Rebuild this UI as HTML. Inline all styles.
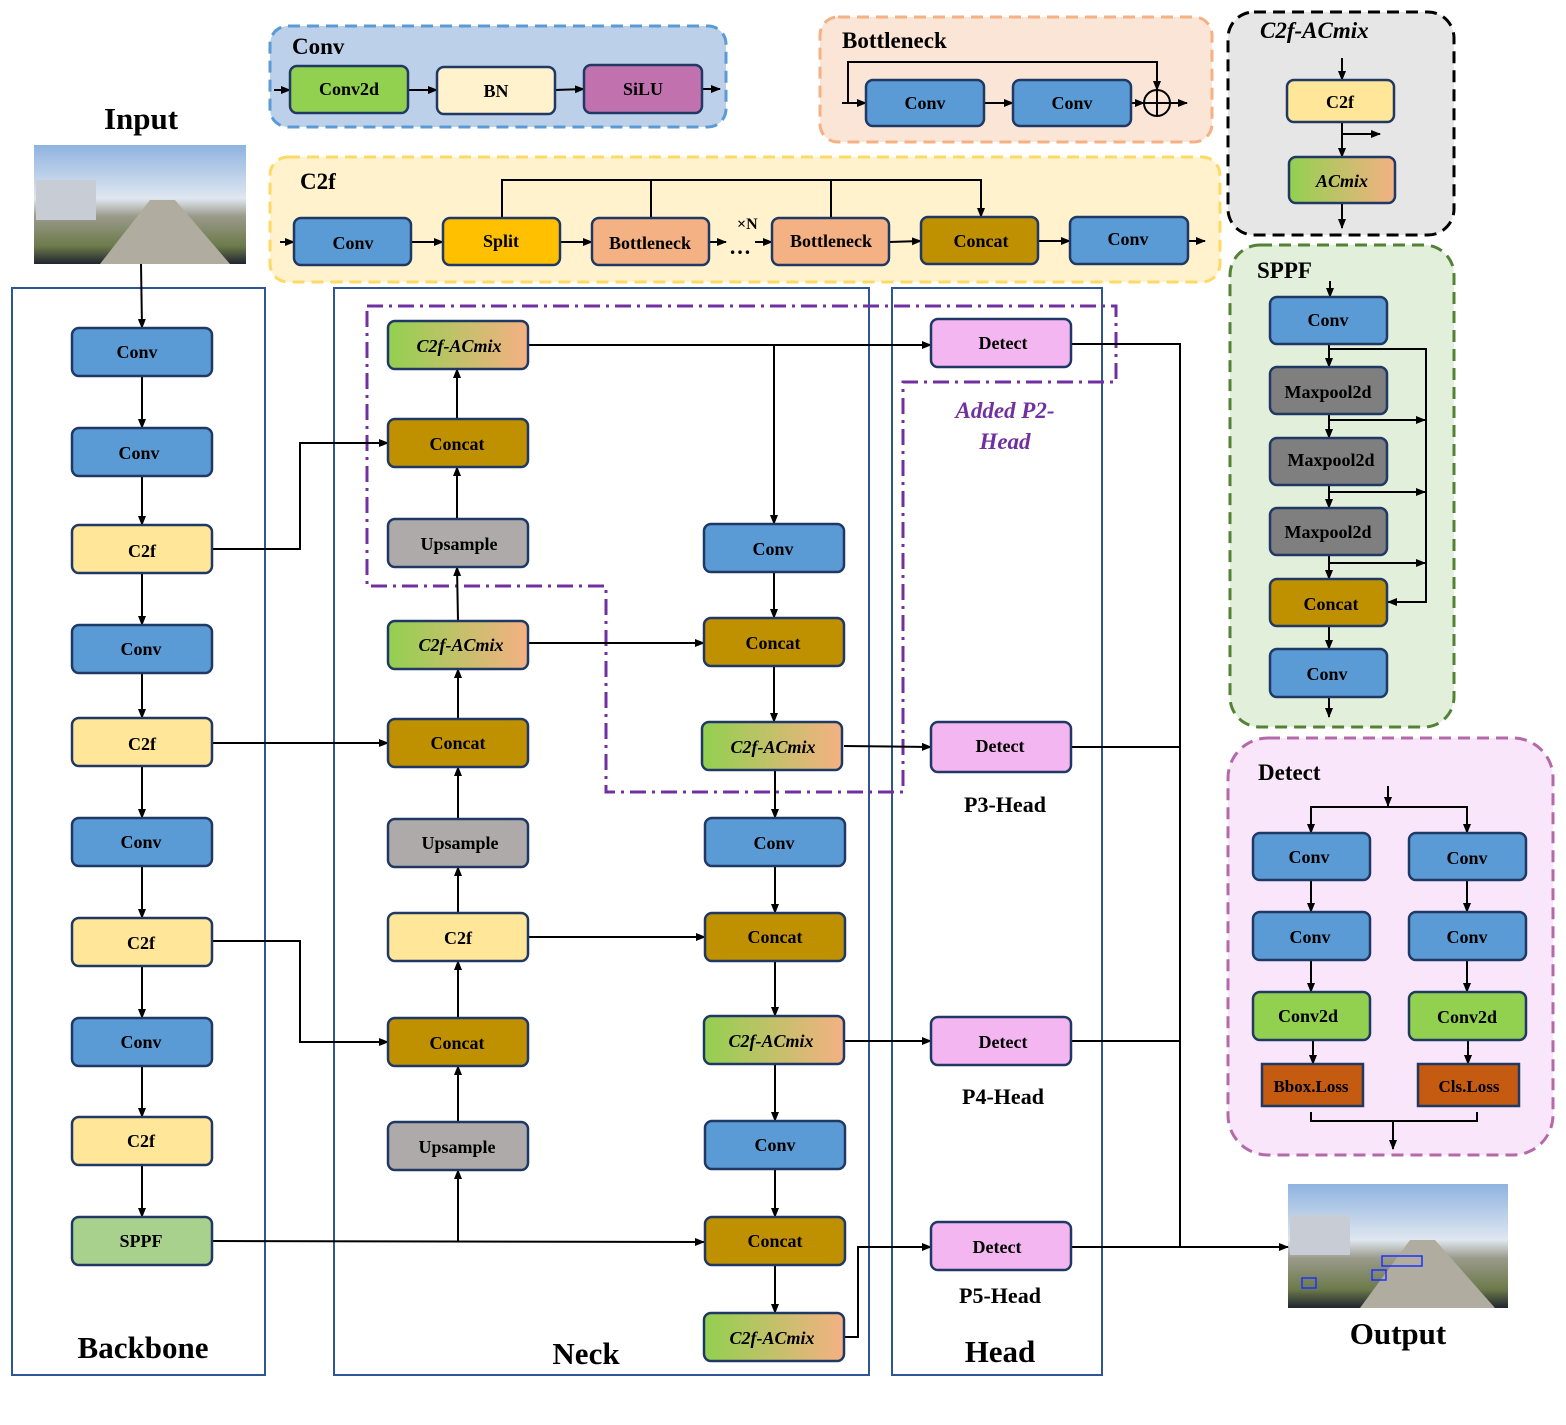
<!DOCTYPE html>
<html><head><meta charset="utf-8"><style>
html,body{margin:0;padding:0;background:#fff;}
svg{display:block;}
text{font-family:"Liberation Serif",serif;font-weight:bold;}
</style></head><body>
<svg width="1566" height="1425" viewBox="0 0 1566 1425" xmlns="http://www.w3.org/2000/svg">
<defs>
<marker id="a" markerWidth="10" markerHeight="10" refX="9" refY="5" orient="auto" markerUnits="userSpaceOnUse"><path d="M0,1 L10,5 L0,9 z" fill="#000"/></marker>
<linearGradient id="g" x1="0" y1="0" x2="1" y2="0"><stop offset="0" stop-color="#92d050"/><stop offset="1" stop-color="#f4b183"/></linearGradient>
<linearGradient id="sky" x1="0" y1="0" x2="0" y2="1"><stop offset="0" stop-color="#8fb3e0"/><stop offset="0.45" stop-color="#dfe7f0"/><stop offset="0.6" stop-color="#9a9a8a"/><stop offset="0.85" stop-color="#6c7a4a"/><stop offset="1" stop-color="#202530"/></linearGradient>
</defs>

<rect x="270" y="26" width="456" height="101" rx="18" fill="#bdd0ea" stroke="#5b9bd5" stroke-width="3" stroke-dasharray="12,7"/>
<rect x="820" y="17" width="392" height="125" rx="18" fill="#fbe5d6" stroke="#f4b183" stroke-width="3" stroke-dasharray="12,7"/>
<rect x="270" y="157" width="950" height="125" rx="18" fill="#fff2cc" stroke="#ffd966" stroke-width="3" stroke-dasharray="12,7"/>
<rect x="1228" y="12" width="226" height="223" rx="26" fill="#e7e6e6" stroke="#000" stroke-width="3" stroke-dasharray="12,7"/>
<rect x="1230" y="245" width="224" height="482" rx="30" fill="#e2efda" stroke="#548235" stroke-width="3" stroke-dasharray="12,7"/>
<rect x="1228" y="738" width="325" height="417" rx="40" fill="#fae6fa" stroke="#b46aa8" stroke-width="3" stroke-dasharray="12,7"/>

<g font-size="23" fill="#000">
<text x="292" y="54">Conv</text>
<text x="842" y="48">Bottleneck</text>
<text x="300" y="189">C2f</text>
<text x="1260" y="38" font-style="italic">C2f-ACmix</text>
<text x="1257" y="278">SPPF</text>
<text x="1258" y="780">Detect</text>
</g>

<rect x="12" y="288" width="253" height="1087" fill="none" stroke="#2f5597" stroke-width="2"/>
<rect x="334" y="288" width="535" height="1087" fill="none" stroke="#2f5597" stroke-width="2"/>
<rect x="892" y="288" width="210" height="1087" fill="none" stroke="#2f5597" stroke-width="2"/>

<rect x="34" y="145" width="212" height="119" fill="url(#sky)"/>
<rect x="36" y="180" width="60" height="40" fill="#c8ccd4"/>
<polygon points="100,264 150,200 175,200 230,264" fill="#b0aca0"/>
<rect x="1288" y="1184" width="220" height="124" fill="url(#sky)"/>
<rect x="1290" y="1215" width="60" height="40" fill="#c8ccd4"/>
<polygon points="1360,1308 1410,1240 1435,1240 1495,1308" fill="#b0aca0"/>
<g fill="none" stroke="#2030ff" stroke-width="1.5"><rect x="1382" y="1256" width="40" height="10"/><rect x="1372" y="1270" width="14" height="10"/><rect x="1302" y="1278" width="14" height="10"/></g>

<polyline points="367,306 1116,306 1116,382 903,382 903,792 606,792 606,586 367,586 367,306" fill="none" stroke="#7030a0" stroke-width="3" stroke-dasharray="16,6,3,6"/>

<g stroke="#000" stroke-width="2" fill="none" marker-end="url(#a)">
<line x1="274" y1="90" x2="290" y2="90"/><line x1="408" y1="90" x2="437" y2="90"/><line x1="555" y1="90" x2="584" y2="89"/><line x1="702" y1="89" x2="720" y2="89"/>
<line x1="842" y1="103" x2="866" y2="103"/><line x1="984" y1="103" x2="1013" y2="103"/><line x1="1131" y1="103" x2="1144" y2="103"/><line x1="1170" y1="103" x2="1187" y2="103"/>
<polyline points="848,103 848,62 1157,62 1157,90"/>
<line x1="280" y1="242" x2="294" y2="242"/><line x1="411" y1="242" x2="443" y2="242"/><line x1="560" y1="242" x2="592" y2="242"/><line x1="709" y1="242" x2="726" y2="242"/><line x1="755" y1="242" x2="772" y2="242"/><line x1="889" y1="242" x2="921" y2="241"/><line x1="1038" y1="241" x2="1070" y2="241"/><line x1="1188" y1="241" x2="1205" y2="241"/>
<polyline points="502,218 502,180 981,180 981,217" />
<line x1="1342" y1="58" x2="1342" y2="80"/><line x1="1342" y1="122" x2="1342" y2="157"/><line x1="1342" y1="134" x2="1380" y2="134"/><line x1="1342" y1="203" x2="1342" y2="228"/>
<line x1="1330" y1="281" x2="1330" y2="297"/><line x1="1329" y1="344" x2="1329" y2="367"/><line x1="1329" y1="414" x2="1329" y2="438"/><line x1="1329" y1="485" x2="1329" y2="508"/><line x1="1329" y1="555" x2="1329" y2="579"/><line x1="1329" y1="626" x2="1329" y2="649"/><line x1="1329" y1="697" x2="1329" y2="717"/>
<line x1="1329" y1="420" x2="1425" y2="420"/><line x1="1329" y1="492" x2="1425" y2="492"/><line x1="1329" y1="563" x2="1425" y2="563"/>
<polyline points="1329,349 1426,349 1426,602 1388,602"/>
<line x1="1388" y1="786" x2="1388" y2="806"/>
<polyline points="1388,807 1311,807 1311,833"/><polyline points="1388,807 1467,807 1467,833"/>
<line x1="1311" y1="880" x2="1311" y2="912"/><line x1="1467" y1="880" x2="1467" y2="912"/><line x1="1311" y1="960" x2="1311" y2="992"/><line x1="1467" y1="960" x2="1467" y2="992"/><line x1="1313" y1="1040" x2="1313" y2="1064"/><line x1="1468" y1="1040" x2="1468" y2="1064"/>
<line x1="1393" y1="1121" x2="1393" y2="1149"/>
<line x1="141" y1="264" x2="142" y2="328"/>
<line x1="142" y1="376" x2="142" y2="428"/><line x1="142" y1="476" x2="142" y2="525"/><line x1="142" y1="573" x2="142" y2="625"/><line x1="142" y1="673" x2="142" y2="718"/><line x1="142" y1="766" x2="142" y2="818"/><line x1="142" y1="866" x2="142" y2="918"/><line x1="142" y1="966" x2="142" y2="1018"/><line x1="142" y1="1066" x2="142" y2="1117"/><line x1="142" y1="1165" x2="142" y2="1217"/>
<polyline points="212,549 300,549 300,443 388,443"/>
<line x1="212" y1="743" x2="388" y2="743"/>
<polyline points="212,941 300,941 300,1042 388,1042"/>
<line x1="212" y1="1241" x2="704" y2="1242"/>
<line x1="458" y1="1241" x2="458" y2="1170"/>
<line x1="458" y1="1122" x2="458" y2="1066"/><line x1="458" y1="1018" x2="458" y2="961"/><line x1="458" y1="913" x2="458" y2="867"/><line x1="458" y1="819" x2="458" y2="767"/><line x1="458" y1="719" x2="458" y2="669"/><line x1="458" y1="621" x2="457" y2="567"/><line x1="457" y1="519" x2="457" y2="467"/><line x1="457" y1="419" x2="457" y2="369"/>
<line x1="528" y1="345" x2="931" y2="345"/>
<line x1="774" y1="345" x2="774" y2="524"/>
<line x1="774" y1="572" x2="774" y2="618"/>
<line x1="528" y1="643" x2="704" y2="643"/>
<line x1="774" y1="666" x2="774" y2="722"/>
<line x1="844" y1="746" x2="931" y2="747"/>
<line x1="775" y1="770" x2="775" y2="818"/>
<line x1="775" y1="866" x2="775" y2="913"/>
<line x1="528" y1="937" x2="705" y2="937"/>
<line x1="775" y1="961" x2="775" y2="1016"/>
<line x1="844" y1="1041" x2="931" y2="1041"/>
<line x1="775" y1="1064" x2="775" y2="1121"/>
<line x1="775" y1="1169" x2="775" y2="1217"/>
<line x1="775" y1="1265" x2="775" y2="1313"/>
<polyline points="844,1337 858,1337 858,1247 931,1247"/>
<line x1="1071" y1="1247" x2="1288" y2="1247"/>
</g>
<g stroke="#000" stroke-width="2" fill="none">
<line x1="651" y1="218" x2="651" y2="180"/>
<line x1="831" y1="218" x2="831" y2="180"/>
<polyline points="1071,344 1180,344 1180,1247"/>
<line x1="1071" y1="747" x2="1180" y2="747"/>
<line x1="1071" y1="1041" x2="1180" y2="1041"/>
<polyline points="1311,1112 1311,1121 1477,1121 1477,1112"/>
<circle cx="1157" cy="103" r="13"/><line x1="1144" y1="103" x2="1170" y2="103"/><line x1="1157" y1="90" x2="1157" y2="116"/>
</g>
<text x="737" y="229" font-size="16">×N</text>
<text x="729" y="254" font-size="22">…</text>

<g stroke="#1f3864" stroke-width="2.5" font-size="18">
<rect x="290" y="66" width="118" height="47" rx="7" fill="#92d050"/>
<rect x="437" y="67" width="118" height="47" rx="7" fill="#fff2cc"/>
<rect x="584" y="65" width="118" height="48" rx="7" fill="#c071ae"/>
<rect x="866" y="80" width="118" height="46" rx="7" fill="#5b9bd5"/>
<rect x="1013" y="80" width="118" height="46" rx="7" fill="#5b9bd5"/>
<rect x="294" y="218" width="117" height="47" rx="7" fill="#5b9bd5"/>
<rect x="443" y="218" width="117" height="47" rx="7" fill="#ffc000"/>
<rect x="592" y="218" width="117" height="47" rx="7" fill="#f4b183"/>
<rect x="772" y="218" width="117" height="47" rx="7" fill="#f4b183"/>
<rect x="921" y="217" width="117" height="47" rx="7" fill="#bf9000"/>
<rect x="1070" y="217" width="118" height="47" rx="7" fill="#5b9bd5"/>
<rect x="1287" y="80" width="107" height="42" rx="7" fill="#ffe699"/>
<rect x="1289" y="157" width="106" height="46" rx="7" fill="url(#g)"/>
<rect x="1270" y="297" width="117" height="47" rx="7" fill="#5b9bd5"/>
<rect x="1270" y="367" width="117" height="47" rx="7" fill="#7f7f7f"/>
<rect x="1270" y="438" width="117" height="47" rx="7" fill="#7f7f7f"/>
<rect x="1270" y="508" width="117" height="47" rx="7" fill="#7f7f7f"/>
<rect x="1270" y="579" width="117" height="47" rx="7" fill="#bf9000"/>
<rect x="1270" y="649" width="117" height="48" rx="7" fill="#5b9bd5"/>
<rect x="1253" y="833" width="117" height="47" rx="7" fill="#5b9bd5"/>
<rect x="1409" y="833" width="117" height="47" rx="7" fill="#5b9bd5"/>
<rect x="1253" y="912" width="117" height="48" rx="7" fill="#5b9bd5"/>
<rect x="1409" y="912" width="117" height="48" rx="7" fill="#5b9bd5"/>
<rect x="1253" y="992" width="117" height="48" rx="7" fill="#92d050"/>
<rect x="1409" y="992" width="117" height="48" rx="7" fill="#92d050"/>
<rect x="1262" y="1064" width="101" height="42" fill="#c55a11"/>
<rect x="1418" y="1064" width="101" height="42" fill="#c55a11"/>
<rect x="72" y="328" width="140" height="48" rx="7" fill="#5b9bd5"/>
<rect x="72" y="428" width="140" height="48" rx="7" fill="#5b9bd5"/>
<rect x="72" y="525" width="140" height="48" rx="7" fill="#ffe699"/>
<rect x="72" y="625" width="140" height="48" rx="7" fill="#5b9bd5"/>
<rect x="72" y="718" width="140" height="48" rx="7" fill="#ffe699"/>
<rect x="72" y="818" width="140" height="48" rx="7" fill="#5b9bd5"/>
<rect x="72" y="918" width="140" height="48" rx="7" fill="#ffe699"/>
<rect x="72" y="1018" width="140" height="48" rx="7" fill="#5b9bd5"/>
<rect x="72" y="1117" width="140" height="48" rx="7" fill="#ffe699"/>
<rect x="72" y="1217" width="140" height="48" rx="7" fill="#a9d18e"/>
<rect x="388" y="321" width="140" height="48" rx="7" fill="url(#g)"/>
<rect x="388" y="419" width="140" height="48" rx="7" fill="#bf9000"/>
<rect x="388" y="519" width="140" height="48" rx="7" fill="#aeaaaa"/>
<rect x="388" y="621" width="140" height="48" rx="7" fill="url(#g)"/>
<rect x="388" y="719" width="140" height="48" rx="7" fill="#bf9000"/>
<rect x="388" y="819" width="140" height="48" rx="7" fill="#aeaaaa"/>
<rect x="388" y="913" width="140" height="48" rx="7" fill="#ffe699"/>
<rect x="388" y="1018" width="140" height="48" rx="7" fill="#bf9000"/>
<rect x="388" y="1122" width="140" height="48" rx="7" fill="#aeaaaa"/>
<rect x="704" y="524" width="140" height="48" rx="7" fill="#5b9bd5"/>
<rect x="704" y="618" width="140" height="48" rx="7" fill="#bf9000"/>
<rect x="702" y="722" width="140" height="48" rx="7" fill="url(#g)"/>
<rect x="705" y="818" width="140" height="48" rx="7" fill="#5b9bd5"/>
<rect x="705" y="913" width="140" height="48" rx="7" fill="#bf9000"/>
<rect x="704" y="1016" width="140" height="48" rx="7" fill="url(#g)"/>
<rect x="705" y="1121" width="140" height="48" rx="7" fill="#5b9bd5"/>
<rect x="705" y="1217" width="140" height="48" rx="7" fill="#bf9000"/>
<rect x="704" y="1313" width="140" height="48" rx="7" fill="url(#g)"/>
<rect x="931" y="319" width="140" height="48" rx="7" fill="#f4b6f0"/>
<rect x="931" y="722" width="140" height="50" rx="7" fill="#f4b6f0"/>
<rect x="931" y="1017" width="140" height="48" rx="7" fill="#f4b6f0"/>
<rect x="931" y="1222" width="140" height="48" rx="7" fill="#f4b6f0"/>
</g>

<g font-size="18" text-anchor="middle" fill="#000">
<text x="349" y="95">Conv2d</text><text x="496" y="97">BN</text><text x="643" y="95">SiLU</text>
<text x="925" y="109">Conv</text><text x="1072" y="109">Conv</text>
<text x="353" y="249">Conv</text><text x="501" y="247">Split</text><text x="650" y="249">Bottleneck</text><text x="831" y="247">Bottleneck</text><text x="981" y="247">Concat</text><text x="1128" y="245">Conv</text>
<text x="1340" y="108">C2f</text><text x="1342" y="187" font-style="italic">ACmix</text>
<text x="1328" y="326">Conv</text><text x="1328" y="398">Maxpool2d</text><text x="1331" y="466">Maxpool2d</text><text x="1328" y="538">Maxpool2d</text><text x="1331" y="610">Concat</text><text x="1327" y="680">Conv</text>
<text x="1309" y="863">Conv</text><text x="1467" y="864">Conv</text><text x="1310" y="943">Conv</text><text x="1467" y="943">Conv</text><text x="1308" y="1022">Conv2d</text><text x="1467" y="1023">Conv2d</text>
<text x="1311" y="1092" font-size="17">Bbox.Loss</text><text x="1469" y="1092" font-size="17">Cls.Loss</text>
<text x="137" y="358">Conv</text><text x="139" y="459">Conv</text><text x="142" y="557">C2f</text><text x="141" y="655">Conv</text><text x="142" y="750">C2f</text><text x="141" y="848">Conv</text><text x="141" y="949">C2f</text><text x="141" y="1048">Conv</text><text x="141" y="1147">C2f</text><text x="141" y="1247">SPPF</text>
<text x="459" y="352" font-style="italic">C2f-ACmix</text><text x="457" y="450">Concat</text><text x="459" y="550">Upsample</text><text x="461" y="651" font-style="italic">C2f-ACmix</text><text x="458" y="749">Concat</text><text x="460" y="849">Upsample</text><text x="458" y="944">C2f</text><text x="457" y="1049">Concat</text><text x="457" y="1153">Upsample</text>
<text x="773" y="555">Conv</text><text x="773" y="649">Concat</text><text x="773" y="753" font-style="italic">C2f-ACmix</text><text x="774" y="849">Conv</text><text x="775" y="943">Concat</text><text x="771" y="1047" font-style="italic">C2f-ACmix</text><text x="775" y="1151">Conv</text><text x="775" y="1247">Concat</text><text x="772" y="1344" font-style="italic">C2f-ACmix</text>
<text x="1003" y="349">Detect</text><text x="1000" y="752">Detect</text><text x="1003" y="1048">Detect</text><text x="997" y="1253">Detect</text>
</g>

<g font-size="22" text-anchor="middle" fill="#000">
<text x="1005" y="812">P3-Head</text><text x="1003" y="1104">P4-Head</text><text x="1000" y="1303">P5-Head</text>
</g>
<g font-size="23" text-anchor="middle" fill="#7030a0" font-style="italic">
<text x="1005" y="418">Added P2-</text><text x="1005" y="449">Head</text>
</g>
<g font-size="31" text-anchor="middle" fill="#000">
<text x="141" y="129">Input</text>
<text x="143" y="1358">Backbone</text>
<text x="586" y="1364">Neck</text>
<text x="1000" y="1362">Head</text>
<text x="1398" y="1344">Output</text>
</g>
</svg>
</body></html>
